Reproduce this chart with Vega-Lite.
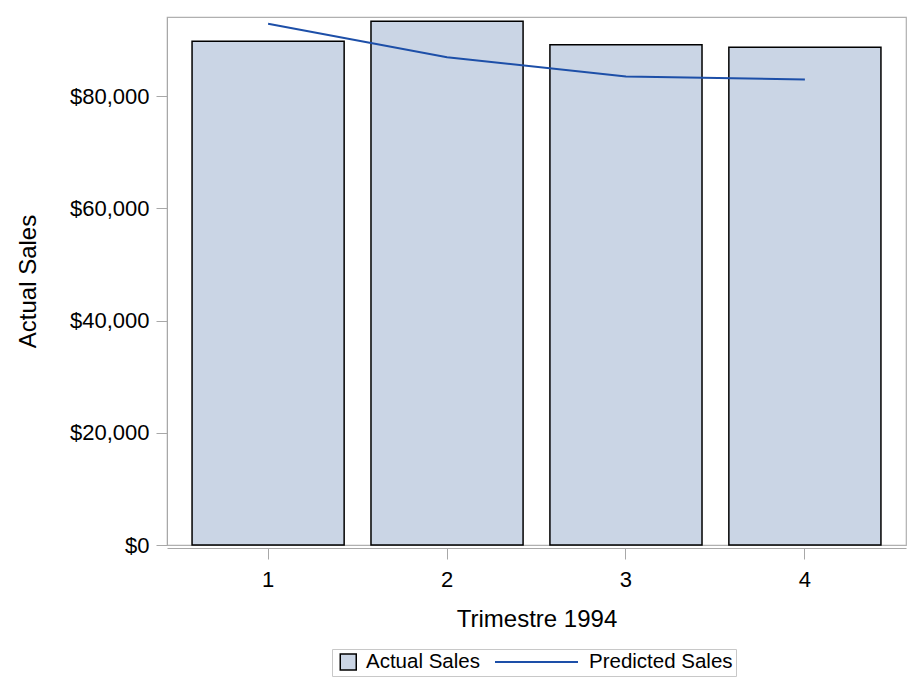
{
  "$schema": "https://vega.github.io/schema/vega-lite/v6.json",
  "width": 739,
  "height": 528,
  "autosize": "none",
  "padding": {"left": 167, "top": 17, "right": 18, "bottom": 148},
  "background": "white",
  "config": {
    "font": "Liberation Sans",
    "view": {"stroke": "#b0b0b0", "strokeWidth": 1.2},
    "axis": {
      "domainColor": "#a8a8a8",
      "tickColor": "#a8a8a8",
      "labelColor": "black",
      "titleColor": "black",
      "titleFontWeight": "normal",
      "grid": false,
      "tickSize": 11
    },
    "legend": {
      "labelFontSize": 20.5,
      "labelColor": "black",
      "padding": 3,
      "clipHeight": 20,
      "direction": "horizontal",
      "orient": "none"
    }
  },
  "data": {
    "values": [
      {"Quarter": "1", "Actual": 89800, "Predicted": 92900},
      {"Quarter": "2", "Actual": 93370, "Predicted": 86950},
      {"Quarter": "3", "Actual": 89160, "Predicted": 83510},
      {"Quarter": "4", "Actual": 88730, "Predicted": 82980}
    ]
  },
  "encoding": {
    "x": {
      "field": "Quarter",
      "type": "ordinal",
      "scale": {"paddingInner": 0.15, "paddingOuter": 0.14},
      "axis": {
        "title": "Trimestre 1994",
        "labelAngle": 0,
        "labelFontSize": 22,
        "labelPadding": 10,
        "titleFontSize": 24,
        "titlePadding": 17,
        "offset": 3
      }
    }
  },
  "layer": [
    {
      "mark": {"type": "bar", "stroke": "black", "strokeWidth": 1.5},
      "encoding": {
        "y": {
          "field": "Actual",
          "type": "quantitative",
          "scale": {"domain": [0, 94120], "nice": false},
          "axis": {
            "title": "Actual Sales",
            "values": [0, 20000, 40000, 60000, 80000],
            "format": "$,.0f",
            "labelFontSize": 22,
            "labelPadding": 7,
            "titleFontSize": 24,
            "titlePadding": 29
          }
        },
        "fill": {
          "datum": "Actual Sales",
          "scale": {"range": ["#cad5e5"]},
          "legend": {
            "title": null,
            "orient": "none",
            "legendX": 165,
            "legendY": 632,
            "symbolType": "square",
            "symbolSize": 256,
            "symbolStrokeColor": "black",
            "symbolStrokeWidth": 1.5,
            "symbolOffset": 3,
            "labelOffset": 7.5
          }
        }
      }
    },
    {
      "mark": {"type": "line", "strokeWidth": 2},
      "encoding": {
        "y": {"field": "Predicted", "type": "quantitative", "title": "Actual Sales"},
        "stroke": {
          "datum": "Predicted Sales",
          "scale": {"range": ["#1d4fa8"]},
          "legend": {
            "title": null,
            "orient": "none",
            "legendX": 165,
            "legendY": 632,
            "symbolType": "stroke",
            "symbolSize": 6889,
            "symbolStrokeWidth": 2,
            "symbolOffset": 159,
            "labelOffset": 10,
            "strokeColor": "#c8c8c8"
          }
        }
      }
    }
  ]
}
